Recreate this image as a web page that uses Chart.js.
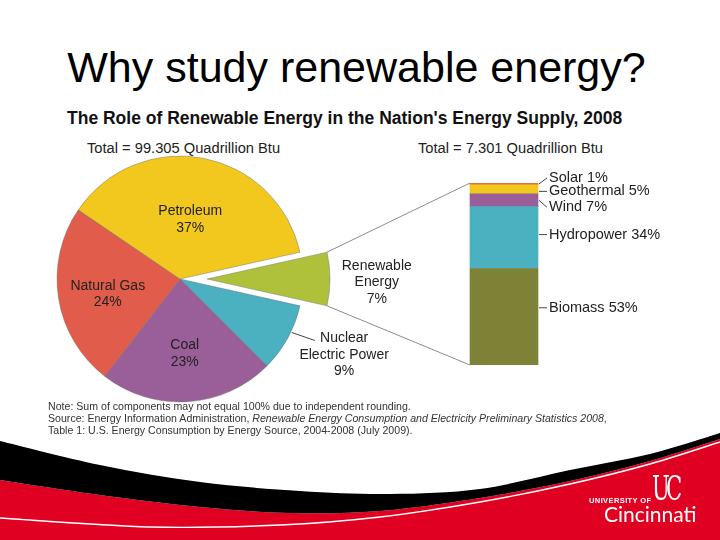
<!DOCTYPE html>
<html lang="en">
<head>
<meta charset="UTF-8">
<title>Why study renewable energy?</title>
<script src="https://cdn.jsdelivr.net/npm/chart.js@4"></script>
<style>
    body {
        margin: 0;
        background: #fff;
        font-family: 'Liberation Sans', Arial, sans-serif;
    }

    .slide {
        position: relative;
        width: 720px;
        height: 540px;
        overflow: hidden;
        background: #fff;
    }

    .slide-title {
        position: absolute;
        left: 0;
        width: 713px;
        top: 46px;
        text-align: center;
        font-size: 43px;
        line-height: 43px;
        color: #000;
        white-space: nowrap;
    }

    .chart-title {
        position: absolute;
        left: 67px;
        top: 108px;
        font-size: 17.5px;
        line-height: 20px;
        font-weight: bold;
        color: #111;
        white-space: nowrap;
    }

    .total {
        position: absolute;
        top: 140px;
        font-size: 14.7px;
        line-height: 16px;
        color: #222;
        white-space: nowrap;
    }

    .notes {
        position: absolute;
        left: 48px;
        top: 400px;
        font-size: 10.6px;
        line-height: 12px;
        color: #333;
        white-space: nowrap;
    }

    canvas {
        position: absolute;
    }

    #pieChart { left: 0; top: 0; }
    #barChart { left: 440px; top: 160px; }

    #swoosh { position: absolute; left: 0; top: 0; }

    .uc-small {
        position: absolute;
        left: 589px;
        top: 496px;
        font-size: 7.5px;
        font-weight: bold;
        letter-spacing: 0.4px;
        color: #fff;
    }

    .uc-mark {
        position: absolute;
        left: 652px;
        top: 468px;
        font-family: 'DejaVu Serif', serif;
        font-size: 34px;
        line-height: 40px;
        color: #fff;
        transform: scaleX(0.62);
        transform-origin: left top;
        letter-spacing: -6px;
    }

    .uc-name {
        position: absolute;
        left: 604px;
        top: 502px;
        font-family: Lato, 'Open Sans', sans-serif;
        font-size: 21px;
        line-height: 24px;
        color: #fff;
    }
</style>
</head>
<body>
<div class="slide">
    <div class="slide-title">Why study renewable energy?</div>
    <div class="chart-title">The Role of Renewable Energy in the Nation's Energy Supply, 2008</div>
    <div class="total" style="left:87px">Total = 99.305 Quadrillion Btu</div>
    <div class="total" style="left:418px">Total = 7.301 Quadrillion Btu</div>

    <canvas id="barChart" width="280" height="220"></canvas>
    <canvas id="pieChart" width="720" height="540"></canvas>

    <div class="notes">
        Note: Sum of components may not equal 100% due to independent rounding.<br>
        Source: Energy Information Administration, <i>Renewable Energy Consumption and Electricity Preliminary Statistics 2008</i>,<br>
        Table 1: U.S. Energy Consumption by Energy Source, 2004-2008 (July 2009).
    </div>

    <svg id="swoosh" width="720" height="540"></svg>
    <div class="uc-small">UNIVERSITY OF</div>
    <div class="uc-mark">UC</div>
    <div class="uc-name">Cincinnati</div>
</div>

<script>
    // Share of total U.S. energy supply, 2008 (%), clockwise from the renewable slice
    const pieSources = [['Renewable', 'Energy'], ['Nuclear', 'Electric Power'], ['Coal'], ['Natural Gas'], ['Petroleum']];
    const pieShares = [7, 9, 23, 24, 37];

    // Breakdown of renewable energy (%), bottom of the bar to the top
    const renewSources = ['Biomass', 'Hydropower', 'Wind', 'Geothermal', 'Solar'];
    const renewShares = [53, 34, 7, 5, 1];

    const pieColors = ['#afc13b', '#4bb0c0', '#9a5f98', '#e25c4b', '#f2c81e'];
    const barColors = ['#7e8236', '#4bb0c0', '#9a5f98', '#f2c81e', '#e0703c'];
    const edgeColor = 'rgba(110, 110, 110, 0.55)';
    const FONT = '"Liberation Sans", Arial, sans-serif';

    // Labels to the right of the stacked bar, with small leader ticks
    const barLabels = {
        id: 'barLabels',
        afterDatasetsDraw(chart) {
            const ctx = chart.ctx;
            const nudge = { Solar: -6, Geothermal: 2, Wind: 7, Hydropower: -3, Biomass: -9 };
            ctx.save();
            ctx.font = '14.5px ' + FONT;
            ctx.fillStyle = '#222';
            ctx.strokeStyle = '#444';
            ctx.lineWidth = 1;
            ctx.textBaseline = 'middle';
            chart.data.datasets.forEach((ds, i) => {
                const bar = chart.getDatasetMeta(i).data[0];
                const right = bar.x + bar.width / 2;
                const mid = (bar.y + bar.base) / 2;
                const dy = nudge[ds.label] || 0;
                const slant = ds.label === 'Solar' || ds.label === 'Wind';
                ctx.beginPath();
                ctx.moveTo(right + 1, slant ? mid : mid + dy);
                ctx.lineTo(right + 9, mid + dy);
                ctx.stroke();
                ctx.fillText(ds.label + ' ' + ds.data[0] + '%', right + 11, mid + dy);
            });
            ctx.restore();
        }
    };

    const barChart = new Chart(document.getElementById('barChart'), {
        type: 'bar',
        data: {
            labels: ['Renewable Energy'],
            datasets: renewSources.map((name, i) => ({
                label: name,
                data: [renewShares[i]],
                backgroundColor: barColors[i],
                borderWidth: 0,
                barThickness: 68
            }))
        },
        options: {
            responsive: false,
            animation: false,
            layout: { padding: { left: 0, right: 152, top: 23, bottom: 15 } },
            plugins: { legend: { display: false }, tooltip: { enabled: false } },
            scales: {
                x: { stacked: true, display: false },
                y: { stacked: true, display: false, min: 0, max: 100 }
            }
        },
        plugins: [barLabels]
    });

    // Pulled-out renewable slice, slice labels and the zoom lines to the bar
    const EXPLODE = 27;
    const pieExtras = {
        id: 'pieExtras',
        afterDatasetsDraw(chart) {
            const ctx = chart.ctx;
            const arcs = chart.getDatasetMeta(0).data;
            const R = arcs[0].outerRadius;

            const ren = arcs[0];
            const renMid = (ren.startAngle + ren.endAngle) / 2;
            const ox = ren.x + Math.cos(renMid) * EXPLODE;
            const oy = ren.y + Math.sin(renMid) * EXPLODE;
            ctx.save();
            ctx.beginPath();
            ctx.moveTo(ox, oy);
            ctx.arc(ox, oy, R, ren.startAngle, ren.endAngle);
            ctx.closePath();
            ctx.fillStyle = pieColors[0];
            ctx.fill();
            ctx.strokeStyle = edgeColor;
            ctx.lineWidth = 0.8;
            ctx.stroke();

            // lines from the pulled slice to the bar's corners
            const pieBox = chart.canvas.getBoundingClientRect();
            const barBox = barChart.canvas.getBoundingClientRect();
            const sx = barBox.left - pieBox.left, sy = barBox.top - pieBox.top;
            const bottomBar = barChart.getDatasetMeta(0).data[0];
            const topBar = barChart.getDatasetMeta(renewSources.length - 1).data[0];
            const barLeft = sx + bottomBar.x - bottomBar.width / 2;
            ctx.strokeStyle = '#8c8c8c';
            ctx.lineWidth = 1;
            ctx.beginPath();
            ctx.moveTo(ox + Math.cos(ren.startAngle) * R, oy + Math.sin(ren.startAngle) * R);
            ctx.lineTo(barLeft, sy + topBar.y);
            ctx.moveTo(ox + Math.cos(ren.endAngle) * R, oy + Math.sin(ren.endAngle) * R);
            ctx.lineTo(barLeft, sy + bottomBar.base);
            ctx.stroke();

            // leader for the nuclear label
            const nuc = arcs[1];
            const na = nuc.startAngle + 0.4 * (nuc.endAngle - nuc.startAngle);
            const nx = nuc.x + Math.cos(na) * (R + 1), ny = nuc.y + Math.sin(na) * (R + 1);
            ctx.strokeStyle = '#444';
            ctx.beginPath();
            ctx.moveTo(nx, ny);
            ctx.lineTo(nx + 23, ny + 8);
            ctx.stroke();

            // slice labels: radius as a share of R, angle shift in degrees
            const place = [{ r: 1.6, a: 1 }, { r: 1.47, a: -4 }, { r: 0.61, a: 0 }, { r: 0.6, a: -3 }, { r: 0.49, a: -1 }];
            ctx.font = '14px ' + FONT;
            ctx.fillStyle = '#222';
            ctx.textAlign = 'center';
            ctx.textBaseline = 'middle';
            arcs.forEach((arc, i) => {
                const mid = (arc.startAngle + arc.endAngle) / 2 + place[i].a * Math.PI / 180;
                const cx = arc.x + Math.cos(mid) * R * place[i].r;
                const cy = arc.y + Math.sin(mid) * R * place[i].r;
                const lines = chart.data.labels[i].concat(pieShares[i] + '%');
                const step = 16.5;
                lines.forEach((t, k) => {
                    ctx.fillText(t, cx, cy - (lines.length - 1) * step / 2 + k * step);
                });
            });
            ctx.restore();
        }
    };

    new Chart(document.getElementById('pieChart'), {
        type: 'pie',
        data: {
            labels: pieSources,
            datasets: [{
                data: pieShares,
                // the renewable slice is drawn pulled out by pieExtras
                backgroundColor: pieColors.map((c, i) => i === 0 ? 'rgba(0,0,0,0)' : c),
                borderColor: pieColors.map((c, i) => i === 0 ? 'rgba(0,0,0,0)' : edgeColor),
                borderWidth: 0.8
            }]
        },
        options: {
            responsive: false,
            animation: false,
            radius: 123,
            rotation: 77.4,
            layout: { padding: { left: 30, right: 390, top: 129, bottom: 111 } },
            plugins: { legend: { display: false }, tooltip: { enabled: false } }
        },
        plugins: [pieExtras]
    });

    // Slide footer swoosh
    function smoothPath(pts) {
        let d = 'M' + pts[0];
        for (let i = 0; i < pts.length - 1; i++) {
            const p0 = pts[i - 1] || pts[i], p1 = pts[i], p2 = pts[i + 1], p3 = pts[i + 2] || p2;
            const c1 = [p1[0] + (p2[0] - p0[0]) / 6, p1[1] + (p2[1] - p0[1]) / 6];
            const c2 = [p2[0] - (p3[0] - p1[0]) / 6, p2[1] - (p3[1] - p1[1]) / 6];
            d += ' C' + c1 + ' ' + c2 + ' ' + p2;
        }
        return d;
    }
    const bandTop = [[0, 441], [100, 465], [200, 482], [300, 491], [390, 494], [480, 489], [570, 470], [650, 454], [720, 433]];
    const bandBottom = [[0, 480], [100, 495], [200, 507], [290, 513], [380, 511], [480, 498], [570, 481], [650, 461], [720, 439]];
    const whiteLine = [[0, 518], [150, 527], [280, 525], [380, 517], [480, 502], [570, 484], [650, 464], [720, 442]];
    const svg = document.getElementById('swoosh');
    svg.innerHTML =
        '<path fill="#e00122" d="' + smoothPath(bandBottom) + ' L720,540 L0,540 Z"/>' +
        '<path fill="#000" d="' + smoothPath(bandTop) + ' L' + smoothPath(bandBottom.slice().reverse()).slice(1) + ' Z"/>' +
        '<path fill="none" stroke="#fff" stroke-width="1.4" d="' + smoothPath(whiteLine) + '"/>';
</script>
</body>
</html>
